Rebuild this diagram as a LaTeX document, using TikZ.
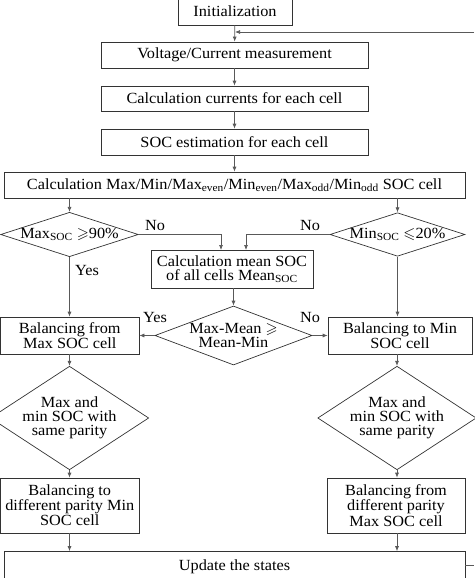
\documentclass[tikz,border=0pt]{standalone}
\usepackage{fontspec}
\usepackage{amssymb}
\setmainfont{Liberation Serif}[FakeStretch=1.05]
\usetikzlibrary{shapes.geometric,arrows.meta}
\begin{document}
\begin{tikzpicture}[x=1pt,y=-1pt,
  font=\fontsize{15.5}{14}\selectfont,
  box/.style={draw=black!80,line width=0.7pt,rectangle,inner sep=0pt,align=center},
  dia/.style={draw=black!80,line width=0.7pt,diamond,inner sep=0pt,align=center},
  conn/.style={draw=black!65,line width=0.7pt},
  arr/.style={conn,-{Latex[length=5pt,width=4pt]}},
  lbl/.style={inner sep=0pt}]
\useasboundingbox (0,0) rectangle (474,578);
\begin{scope}
\clip (0,0) rectangle (474,578);
\node[box,minimum width=114pt,minimum height=28pt] (init) at (235,11) {Initialization};
\node[box,minimum width=461pt,minimum height=31pt] (upd) at (234.5,567) {Update the states};
\end{scope}
\node[box,minimum width=267pt,minimum height=26pt] (vc) at (234.5,55) {Voltage/Current measurement};
\node[box,minimum width=267pt,minimum height=25pt] (cc) at (234.5,98.5) {Calculation currents for each cell};
\node[box,minimum width=267pt,minimum height=26pt] (soc) at (234.5,142) {SOC estimation for each cell};
\node[box,minimum width=461pt,minimum height=26pt] (big) at (234.5,185) {Calculation Max/Min/Max\textsubscript{even}/Min\textsubscript{even}/Max\textsubscript{odd}/Min\textsubscript{odd} SOC cell};
\node[dia,minimum width=135pt,minimum height=43pt,aspect=3.1] (dL) at (69.5,234.5) {Max\textsubscript{SOC} $\geqslant$90\%};
\node[dia,minimum width=135pt,minimum height=43pt,aspect=3.1] (dR) at (397.5,234.5) {Min\textsubscript{SOC} $\leqslant$20\%};
\node[box,minimum width=162pt,minimum height=38pt] (mean) at (232,269) {Calculation mean SOC\\of all cells Mean\textsubscript{SOC}};
\node[dia,minimum width=157pt,minimum height=59pt,aspect=2.66] (dM) at (233.5,335.5) {Max-Mean $\geqslant$\\Mean-Min};
\node[box,minimum width=138.5pt,minimum height=37pt] (bL) at (69.75,335.5) {Balancing from\\Max SOC cell};
\node[box,minimum width=144pt,minimum height=37pt] (bR) at (400,335.5) {Balancing to Min\\SOC cell};
\node[dia,minimum width=139pt,minimum height=91pt,aspect=1.53] (pL) at (69.5,418) {Max and\\min SOC with\\same parity};
\node[dia,minimum width=139pt,minimum height=91pt,aspect=1.53] (pR) at (397,418) {Max and\\min SOC with\\same parity};
\node[box,minimum width=138.5pt,minimum height=55pt] (eL) at (69.75,505.5) {Balancing to\\different parity Min\\SOC cell};
\node[box,minimum width=138pt,minimum height=55pt] (eR) at (396,505.5) {Balancing from\\different parity\\Max SOC cell};
% labels
\node[lbl] (no1) at (155,225) {No};
\node[lbl] (no2) at (310,225) {No};
\node[lbl] (yes1) at (87,270) {Yes};
\node[lbl] (yes2) at (155,317) {Yes};
\node[lbl] (no3) at (310,317) {No};
% coordinates
\coordinate (fbin) at (474,32);
\coordinate (fbj) at (235,32);
\coordinate (fbout) at (474,565);
\coordinate (mL) at (221,250);
\coordinate (mR) at (246,250);
% connectors
\draw[arr] (fbin) -- (fbj);
\draw[arr] (init) -- (vc);
\draw[arr] (vc) -- (cc);
\draw[arr] (cc) -- (soc);
\draw[arr] (soc) -- (big.north -| soc);
\draw[arr] (big.south -| dL.north) -- (dL.north);
\draw[arr] (big.south -| dR.north) -- (dR.north);
\draw[arr] (dL.east) -| (mL);
\draw[arr] (dR.west) -| (mR);
\draw[arr] (mean.south -| dM.north) -- (dM.north);
\draw[arr] (dL.south) -- (bL.north -| dL.south);
\draw[arr] (dR.south) -- (bR.north -| dR.south);
\draw[arr] (dM.west) -- (bL.east);
\draw[arr] (dM.east) -- (bR.west);
\draw[arr] (bL.south -| pL.north) -- (pL.north);
\draw[arr] (bR.south -| pR.north) -- (pR.north);
\draw[arr] (pL.south) -- (eL.north -| pL.south);
\draw[arr] (pR.south) -- (eR.north -| pR.south);
\draw[arr] (eL.south -| pL.south) -- (upd.north -| pL.south);
\draw[arr] (eR.south -| pR.south) -- (upd.north -| pR.south);
\draw[conn] (upd.east |- fbout) -- (fbout);
\end{tikzpicture}
\end{document}
